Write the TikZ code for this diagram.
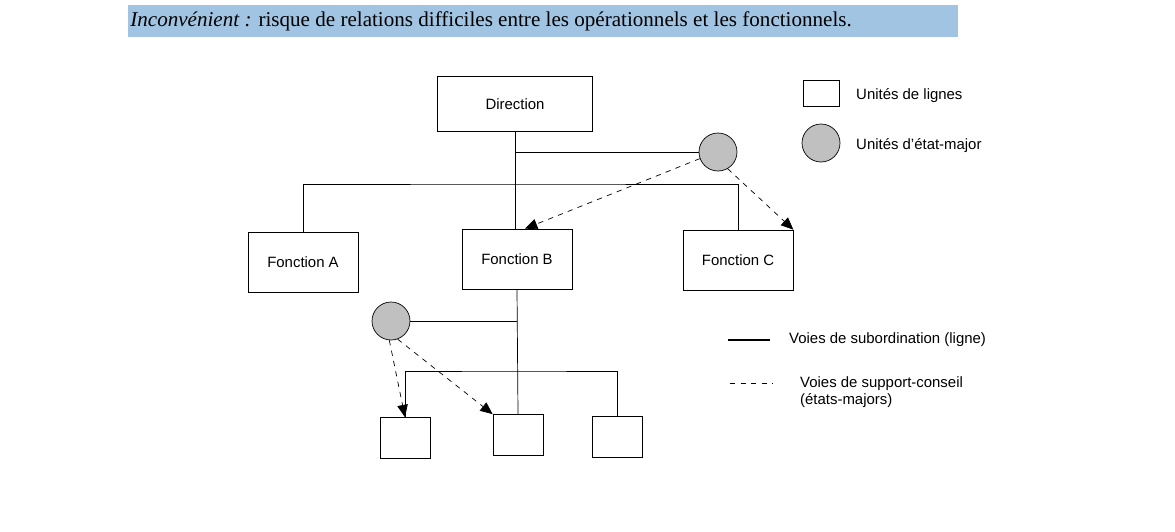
\documentclass[tikz,border=0pt]{standalone}
\usepackage{fontspec}
\setmainfont{Liberation Sans}
\newfontfamily\serifhead{Liberation Serif}
\usetikzlibrary{arrows.meta}
\definecolor{hilite}{RGB}{160,196,226}
\definecolor{staff}{RGB}{192,192,192}
\tikzset{
  unit/.style={draw, minimum width=2.2cm, minimum height=1.2cm, font=\fontsize{8.5}{10}\selectfont},
  small/.style={draw, minimum width=1.0cm, minimum height=0.82cm},
  etat/.style={draw, circle, fill=staff, minimum size=0.76cm, inner sep=0pt},
  conseil/.style={dashed, -{Triangle[length=7pt,width=6pt]}},
  lbl/.style={anchor=west, font=\fontsize{8.5}{10}\selectfont, align=left}
}
\begin{document}
\begin{tikzpicture}[x=0.02cm,y=-0.02cm]
		\useasboundingbox (0,0) rectangle (1175,531);
		\fill [hilite] (128,5) rectangle (958,37);
		\node [anchor=west, font=\serifhead\fontsize{12}{14}\selectfont, inner sep=0pt] (titre) at (130,21) {\textit{Inconvénient :} risque de relations difficiles entre les opérationnels et les fonctionnels.};
		\node [unit, minimum width=3.1cm, minimum height=1.1cm] (dir) at (515,104) {Direction};
		\node [etat] (em1) at (718,152) {};
		\node [unit] (fa) at (303,262) {Fonction A};
		\node [unit] (fb) at (517,259) {Fonction B};
		\node [unit] (fc) at (738,260) {Fonction C};
		\node [etat] (em2) at (391,321) {};
		\node [small] (u1) at (405,438) {};
		\node [small] (u2) at (518,435) {};
		\node [small] (u3) at (617,437) {};
		% lignes hierarchiques
		\draw (dir.south -| 515,0) -- (fb.north -| 515,0);
		\draw (515,152) -- (em1.west);
		\draw (fa.north) |- (515,184) -| (fc.north);
		\draw (fb.south) -- (u2.north);
		\draw (517,321) -- (em2.east);
		\draw (u1.north) |- (517,371) -| (u3.north);
		% etats-majors
		\draw [conseil] (em1.200) -- (fb.north east -| 525,0);
		\draw [conseil] (em1.-60) -- (fc.north east);
		\draw [conseil] (em2.-95) -- (u1.north);
		\draw [conseil] (em2.-70) -- (u2.north west);
		% legende
		\node [draw, minimum width=0.72cm, minimum height=0.52cm] (lg1) at (821,93) {};
		\node [lbl] (lt1) at (850,96) {Unités de lignes};
		\node [etat] (lg2) at (821,143) {};
		\node [lbl] (lt2) at (850,146) {Unités d'état-major};
		\coordinate (l1a) at (728,340);
		\coordinate (l1b) at (770,340);
		\draw [line width=0.9pt] (l1a) -- (l1b);
		\node [lbl] (lt3) at (783,340) {Voies de subordination (ligne)};
		\coordinate (l2a) at (730,383);
		\coordinate (l2b) at (773,383);
		\draw [dashed] (l2a) -- (l2b);
		\node [lbl] (lt4) at (794,392) {Voies de support-conseil\\(états-majors)};
\end{tikzpicture}
\end{document}
